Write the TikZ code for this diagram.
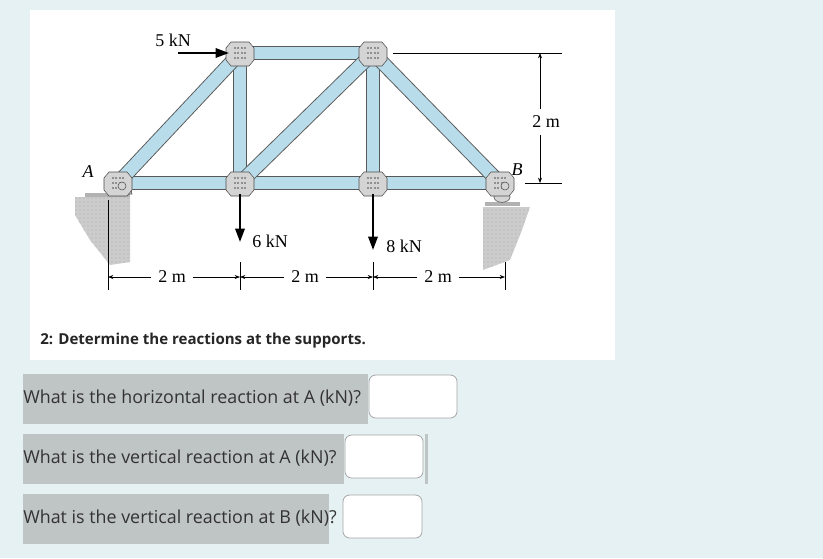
\documentclass[tikz,border=0pt]{standalone}
\usepackage{fontspec}
\setmainfont{Liberation Serif}
\newfontfamily\uifont{Open Sans}
\usetikzlibrary{arrows.meta,patterns}
\definecolor{bgc}{HTML}{E6F1F4}
\definecolor{memb}{HTML}{B8DCEA}
\definecolor{qgray}{HTML}{BFC4C4}
\definecolor{plate}{HTML}{D4D4D4}
\tikzset{
  gusset/.style={draw=gray!60!black, fill=plate, line width=0.4pt},
  load/.style={-{Triangle[length=10pt,width=7pt]}, line width=1.6pt},
  dim/.style={line width=0.4pt},
  lbl/.style={font=\fontsize{13.5}{15}\selectfont, inner sep=1pt},
  dlbl/.style={lbl, inner xsep=5pt},
  qbox/.style={fill=qgray, draw=none},
  inbox/.style={fill=white, draw=gray!70, rounded corners=5pt, line width=0.6pt},
  qtext/.style={font=\uifont\fontsize{13.4}{15}\selectfont, text=black!80, anchor=west, inner sep=0pt},
}
\begin{document}
\begin{tikzpicture}[x=0.75pt,y=-0.75pt]
\useasboundingbox (0,0) rectangle (823,558);
\fill[bgc] (0,0) rectangle (823,558);
\fill[white] (30,10) rectangle (615,360);
% joints
\coordinate (A) at (118,183);
\coordinate (C) at (240,183);
\coordinate (D) at (373,183);
\coordinate (B) at (500,183);
\coordinate (E) at (240,53);
\coordinate (F) at (373,53);
% ground
\fill[gray!40] (75,197) -- (130,197) -- (130,262) -- (110,265) -- (90,240) -- (75,215) -- cycle;
\fill[pattern=dots, pattern color=gray!70] (75,197) -- (130,197) -- (130,262) -- (110,265) -- (90,240) -- (75,215) -- cycle;
\fill[gray!40] (483,207) -- (530,207) -- (522,230) -- (510,260) -- (483,270) -- cycle;
\fill[pattern=dots, pattern color=gray!70] (483,207) -- (530,207) -- (522,230) -- (510,260) -- (483,270) -- cycle;
\fill[gray!60] (85,193) rectangle (130,197);
\fill[gray!60] (485,202) rectangle (520,206);
% members
\foreach \p/\q in {A/C,C/D,D/B,E/F,C/E,D/F,A/E,C/F,F/B}{
  \draw[line width=11pt, draw=gray!70!black] (\p) -- (\q);
  \draw[line width=9.6pt, memb] (\p) -- (\q);
}
% supports
\draw[gusset] (112,194) -- (115,182) -- (129,182) -- (132,194) -- cycle;
\draw[gusset] (502,180) -- (494,197) -- (510,197) -- cycle;
\draw[gusset] (502,197) ellipse (6pt and 4pt);
% gussets
\foreach \c in {A,C,D,B,E,F}{
  \filldraw[gusset] (\c) ++(-9,-11) -- ++(18,0) -- ++(5,6) -- ++(0,12) -- ++(-5,6) -- ++(-18,0) -- ++(-5,-6) -- ++(0,-12) -- cycle;
  \foreach \dx in {-5,-2,2,5}{\foreach \dy in {-5,0,5}{\fill[black!70] (\c) ++(\dx,\dy) circle (0.7pt);}}
}
\draw[gusset] (122,186) circle (3pt);
\draw[gusset] (505,186) circle (3pt);
% loads
\draw[load] (178,53) -- (229,53);
\node[lbl] (t5) at (173,40) {5 kN};
\coordinate (L6) at (240,242);
\draw[load] (240,194) -- (L6);
\node[lbl] (t6) at (270,241) {6 kN};
\coordinate (L8) at (373,250);
\draw[load] (373,194) -- (L8);
\node[lbl] (t8) at (404,246) {8 kN};
\node[lbl, font=\itshape\fontsize{13.5}{15}\selectfont] (tA) at (88,172) {A};
\node[lbl, font=\itshape\fontsize{13.5}{15}\selectfont] (tB) at (517,170) {B};
% bottom dimension
\draw[dim] (108,200) -- (108,290);
\draw[dim] (240,262) -- (240,290);
\draw[dim] (373,262) -- (373,290);
\draw[dim] (505,262) -- (505,290);
\node[dlbl] (d1) at (172,277) {2 m};
\node[dlbl] (d2) at (305,277) {2 m};
\node[dlbl] (d3) at (438,277) {2 m};
\draw[dim,-{Stealth[length=4pt]}] (d1.west) -- (108,277);
\draw[dim,-{Stealth[length=4pt]}] (d1.east) -- (240,277);
\draw[dim,-{Stealth[length=4pt]}] (d2.west) -- (240,277);
\draw[dim,-{Stealth[length=4pt]}] (d2.east) -- (373,277);
\draw[dim,-{Stealth[length=4pt]}] (d3.west) -- (373,277);
\draw[dim,-{Stealth[length=4pt]}] (d3.east) -- (505,277);
% right dimension
\draw[dim] (393,53) -- (562,53);
\draw[dim] (525,183) -- (562,183);
\node[lbl] (d4) at (546,122) {2 m};
\draw[dim,-{Stealth[length=4pt]}] (540,109) -- (540,53);
\draw[dim,-{Stealth[length=4pt]}] (540,135) -- (540,183);
% question
\node[font=\uifont\fontsize{11.3}{13}\selectfont\bfseries, text=black!85, anchor=west, inner sep=0pt] (qt) at (40,341) {2: Determine the reactions at the supports.};
\fill[qbox] (23,374) rectangle (368,424);
\node[qtext] (q1) at (23,398) {What is the horizontal reaction at A (kN)?};
\draw[inbox] (369,375) rectangle (457,418);
\fill[qbox] (23,434) rectangle (344,484);
\node[qtext] (q2) at (23,458) {What is the vertical reaction at A (kN)?};
\draw[inbox] (345,435) rectangle (423,478);
\fill[qgray] (425,434) rectangle (428,484);
\fill[qbox] (23,494) rectangle (329,544);
\node[qtext] (q3) at (23,518) {What is the vertical reaction at B (kN)?};
\draw[inbox] (343,495) rectangle (422,538);
\end{tikzpicture}
\end{document}
